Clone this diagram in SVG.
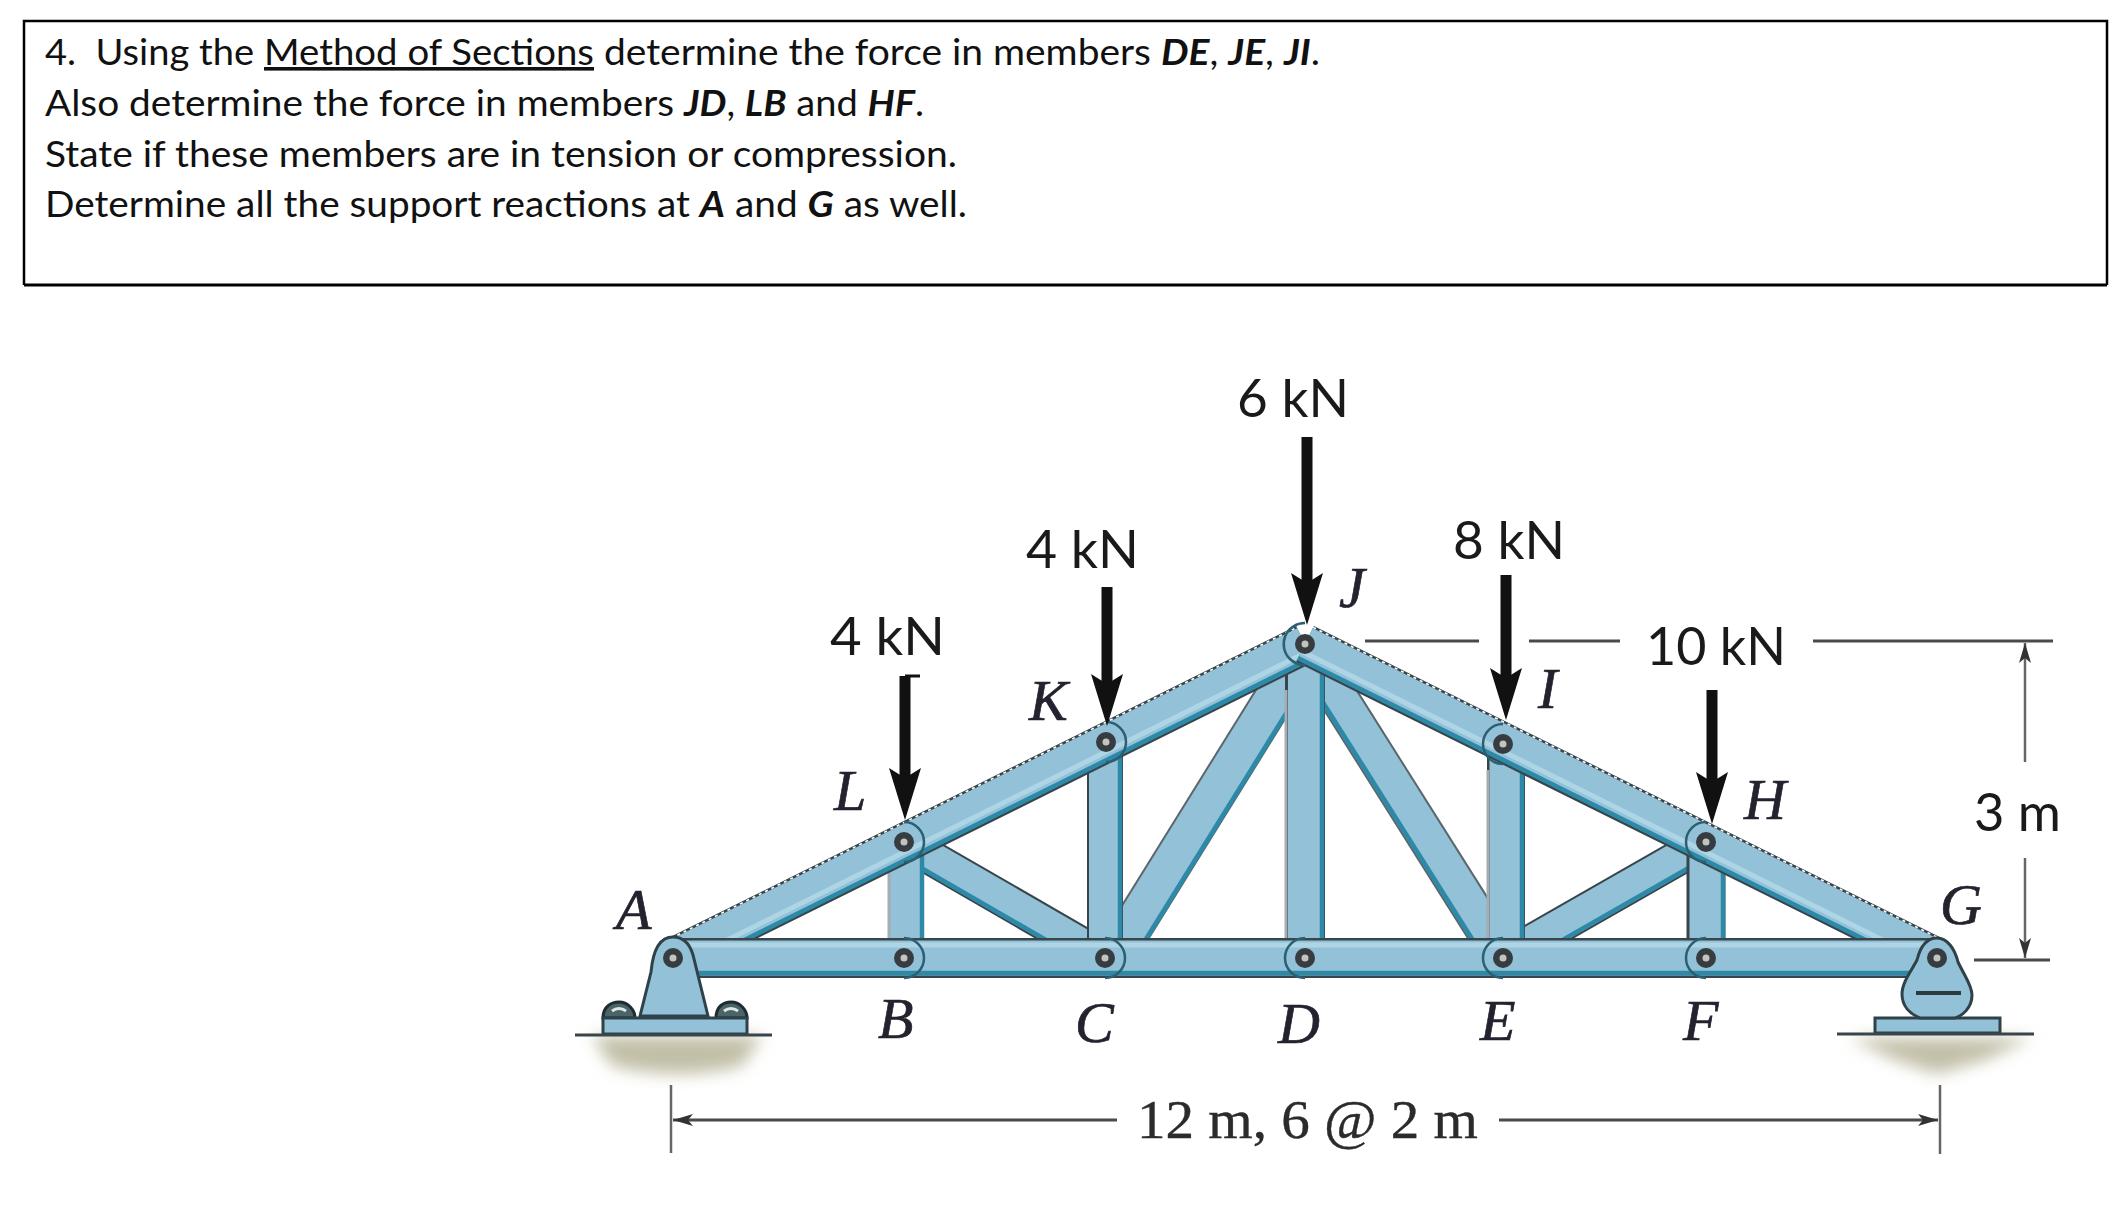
<svg xmlns="http://www.w3.org/2000/svg" width="2122" height="1212" viewBox="0 0 2122 1212">
<style>
text{font-family:"Lato","Open Sans","Liberation Sans",sans-serif;fill:#111}
.hd{font-size:36px}
.bi{font-weight:700;font-style:italic}
.kn{font-size:52px;fill:#1a1a1a}
.lb{font-family:"Liberation Serif","Times New Roman",serif;font-style:italic;font-size:58px;fill:#23232f;stroke:#23232f;stroke-width:.7px}
.dim12{font-family:"Liberation Serif","Times New Roman",serif;font-size:55px;fill:#2b2b2b;stroke:#2b2b2b;stroke-width:.4px}
line{fill:none}
.e{stroke:#38454b}
.f{stroke:#92c1d8}
.t{stroke:#2c8aa8;stroke-width:4.5}
.l{stroke:#add5e6;stroke-width:5}
.g{stroke:#a3adb2;stroke-width:3}
.w{stroke:#fff;stroke-width:1.6;stroke-dasharray:3 4}
.ch .e{stroke-width:40}.ch .f{stroke-width:35}
.web .e{stroke-width:36}.web .f{stroke-width:32}
.load{stroke:#111;stroke-width:11;marker-end:url(#head)}
.dim{stroke:#4a4a4a;stroke-width:3}
.dimg{stroke:#666;stroke-width:2.5}
.ring{fill:none;stroke:#2b5f72;stroke-width:2.5}
.ringl{fill:none;stroke:#d8ecf4;stroke-width:2}
.pin{fill:#363c3f}
.pc{fill:#c4c4bf}
.steel{fill:#92c1d8;stroke:#2f4249;stroke-width:3}
.bolt{fill:#4b6468;stroke:#1f2c30;stroke-width:3}
.shadow{fill:#c2bfa8;filter:url(#blur)}
</style>
<defs>
<marker id="head" markerUnits="userSpaceOnUse" markerWidth="54" markerHeight="36" viewBox="0 0 54 36" refX="22" refY="18" orient="auto">
<path d="M0,2 L10,18 L0,34 L52,18 Z" fill="#111"/>
</marker>
<marker id="sm" markerUnits="userSpaceOnUse" markerWidth="22" markerHeight="14" viewBox="0 0 22 14" refX="20" refY="7" orient="auto">
<path d="M0,1 L5,7 L0,13 L20,7 Z" fill="#333"/>
</marker>
<filter id="blur" x="-20%" y="-40%" width="140%" height="180%"><feGaussianBlur stdDeviation="8"/></filter>
</defs>
<rect width="2122" height="1212" fill="#fff"/>

<g id="problem-box">
<path d="M24,285 V21 H2107 V285" fill="none" stroke="#000" stroke-width="2.5"/>
<line x1="24" y1="285" x2="2107" y2="285" stroke="#000" stroke-width="3"/>
<text class="hd" x="45" y="65" xml:space="preserve" textLength="209" lengthAdjust="spacingAndGlyphs">4.  Using the</text>
<text class="hd" x="264" y="65" text-decoration="underline" textLength="330" lengthAdjust="spacingAndGlyphs">Method of Sections</text>
<text class="hd" x="604" y="65" textLength="716" lengthAdjust="spacingAndGlyphs">determine the force in members <tspan class="bi">DE</tspan>, <tspan class="bi">JE</tspan>, <tspan class="bi">JI</tspan>.</text>
<text class="hd" x="45" y="116" textLength="629" lengthAdjust="spacingAndGlyphs">Also determine the force in members</text>
<text class="hd" x="684" y="116" textLength="240" lengthAdjust="spacingAndGlyphs"><tspan class="bi">JD</tspan>, <tspan class="bi">LB</tspan> and <tspan class="bi">HF</tspan>.</text>
<text class="hd" x="45" y="167" textLength="912" lengthAdjust="spacingAndGlyphs">State if these members are in tension or compression.</text>
<text class="hd" x="45" y="217" textLength="922" lengthAdjust="spacingAndGlyphs">Determine all the support reactions at <tspan class="bi">A</tspan> and <tspan class="bi">G</tspan> as well.</text>
</g>

<g id="ground">
<path class="shadow" d="M592,1036 H762 L742,1066 Q680,1082 612,1066 Z"/>
<path class="shadow" d="M1850,1038 H2032 L1985,1060 L1937,1074 L1895,1060 Z"/>
</g>

<g id="connectors">
<g id="webs" class="web">
<g id="member-LC"><line class="e" x1="904" y1="842" x2="1105" y2="958"/><line class="f" x1="904" y1="842" x2="1105" y2="958"/><line class="t" x1="897" y1="854" x2="1098" y2="970"/></g>
<g id="member-CJ"><line class="e" style="stroke-width:42;stroke:#5a666b" x1="1113" y1="958" x2="1308" y2="644"/><line class="f" style="stroke-width:38" x1="1113" y1="958" x2="1308" y2="644"/><line class="t" x1="1128" y1="968" x2="1323" y2="654"/></g>
<g id="member-JE"><line class="e" style="stroke-width:40;stroke:#5a666b" x1="1305" y1="644" x2="1503" y2="958"/><line class="f" style="stroke-width:36" x1="1305" y1="644" x2="1503" y2="958"/><line class="t" x1="1291.500" y1="652.500" x2="1489.500" y2="966.500"/></g>
<g id="member-EH"><line class="e" x1="1503" y1="958" x2="1706" y2="842"/><line class="f" x1="1503" y1="958" x2="1706" y2="842"/><line class="t" x1="1510" y1="970" x2="1713" y2="854"/></g>
<g id="member-LB"><line class="e" x1="906" y1="842" x2="906" y2="958"/><line class="f" x1="906" y1="842" x2="906" y2="958"/><line class="g" x1="889" y1="860" x2="889" y2="940"/><line class="t" x1="922" y1="842" x2="922" y2="958"/></g>
<g id="member-KC"><line class="e" x1="1105" y1="742" x2="1105" y2="958"/><line class="f" x1="1105" y1="742" x2="1105" y2="958"/><line class="t" x1="1120" y1="742" x2="1120" y2="958"/></g>
<g id="member-JD"><line class="e" style="stroke-width:40" x1="1305" y1="644" x2="1305" y2="958"/><line class="f" style="stroke-width:34" x1="1305" y1="644" x2="1305" y2="958"/><line class="g" x1="1286" y1="690" x2="1286" y2="940"/><line class="t" x1="1322" y1="644" x2="1322" y2="958"/></g>
<g id="member-IE"><line class="e" style="stroke-width:38" x1="1506" y1="743" x2="1506" y2="958"/><line class="f" style="stroke-width:33" x1="1506" y1="743" x2="1506" y2="958"/><line class="g" x1="1488" y1="770" x2="1488" y2="940"/><line class="t" x1="1522" y1="743" x2="1522" y2="958"/></g>
<g id="member-HF"><line class="e" style="stroke-width:39" x1="1706" y1="842" x2="1706" y2="958"/><line class="f" style="stroke-width:33" x1="1706" y1="842" x2="1706" y2="958"/><line class="t" x1="1723" y1="842" x2="1723" y2="958"/></g>
</g>
<g id="chords" class="ch">
<g id="chord-top-left"><line class="e" x1="673" y1="958" x2="1305" y2="644"/><line class="f" x1="673" y1="958" x2="1305" y2="644"/><line class="l" x1="677" y1="965" x2="1309" y2="651"/><line class="t" x1="680" y1="972" x2="1312" y2="658"/><line class="w" x1="664.800" y1="941.400" x2="1296.800" y2="627.400"/></g>
<g id="chord-top-right"><line class="e" x1="1305" y1="644" x2="1937" y2="958"/><line class="f" x1="1305" y1="644" x2="1937" y2="958"/><line class="l" x1="1301" y1="651" x2="1933" y2="965"/><line class="t" x1="1298" y1="658" x2="1930" y2="972"/><line class="w" x1="1313.200" y1="627.400" x2="1945.200" y2="941.400"/></g>
<g id="chord-bottom"><line class="e" x1="673" y1="958" x2="1937" y2="958"/><line class="f" x1="673" y1="958" x2="1937" y2="958"/><line class="l" x1="673" y1="945" x2="1937" y2="945"/><line class="t" x1="673" y1="973" x2="1937" y2="973"/></g>
</g>
</g>

<g id="node-A">
<path class="bolt" d="M603,1018 C603,1006 612,1002 619,1002 C628,1002 635,1010 635,1018 Z"/><path d="M612,1011 Q619,1006 626,1011" stroke="#dfe7e6" stroke-width="3" fill="none"/>
<path class="bolt" d="M716,1018 C716,1006 724,1002 731,1002 C740,1002 747,1010 747,1018 Z"/><path d="M724,1011 Q731,1006 738,1011" stroke="#dfe7e6" stroke-width="3" fill="none"/>
<path class="steel" d="M640,1016 L651,972 C653,950 660,937 673,937 C686,937 691,948 693,955 L708,1016 Z"/>
<rect class="steel" x="603" y="1018" width="144" height="16"/>
<line class="e" x1="575" y1="1035" x2="772" y2="1035" style="stroke-width:3"/>
<circle class="pin" cx="673" cy="958" r="10"/><circle class="pc" cx="673" cy="958" r="3.500"/>
<text class="lb" x="616" y="929">A</text>
</g>
<g id="node-B"><path class="ring" d="M904,938 A20,20 0 0 1 904,978"/><circle class="pin" cx="904" cy="958" r="10"/><circle class="pc" cx="904" cy="958" r="3.500"/><text class="lb" x="878" y="1038">B</text></g>
<g id="node-C"><path class="ring" d="M1105,938 A20,20 0 0 1 1105,978"/><circle class="pin" cx="1105" cy="958" r="10"/><circle class="pc" cx="1105" cy="958" r="3.500"/><text class="lb" x="1075" y="1042">C</text></g>
<g id="node-D"><path class="ring" d="M1305,938 A20,20 0 0 0 1305,978"/><circle class="pin" cx="1305" cy="958" r="10"/><circle class="pc" cx="1305" cy="958" r="3.500"/><text class="lb" x="1278" y="1043">D</text></g>
<g id="node-E"><path class="ring" d="M1503,938 A20,20 0 0 0 1503,978"/><circle class="pin" cx="1503" cy="958" r="10"/><circle class="pc" cx="1503" cy="958" r="3.500"/><text class="lb" x="1480" y="1040">E</text></g>
<g id="node-F"><path class="ring" d="M1706,938 A20,20 0 0 0 1706,978"/><circle class="pin" cx="1706" cy="958" r="10"/><circle class="pc" cx="1706" cy="958" r="3.500"/><text class="lb" x="1683" y="1040">F</text></g>
<g id="node-G">
<rect class="steel" x="1875" y="1018" width="125" height="15"/>
<line class="e" x1="1837" y1="1034" x2="2034" y2="1034" style="stroke-width:3"/>
<path class="steel" d="M1937,938 C1948,938 1955,950 1958,962 C1964,975 1972,985 1972,995 C1972,1008 1962,1016 1955,1018 L1920,1018 C1910,1014 1902,1006 1902,994 C1902,982 1912,970 1917,960 C1920,948 1926,938 1937,938 Z"/>
<line x1="1916" y1="993" x2="1961" y2="993" stroke="#2a3a3e" stroke-width="4"/>
<circle class="pin" cx="1937" cy="958" r="10"/><circle class="pc" cx="1937" cy="958" r="3.500"/>
<text class="lb" x="1940" y="924">G</text>
</g>
<g id="node-H"><path class="ring" d="M1706,822 A20,20 0 0 0 1706,862"/><circle class="pin" cx="1706" cy="842" r="10"/><circle class="pc" cx="1706" cy="842" r="3.500"/><text class="lb" x="1744" y="819">H</text></g>
<g id="node-I"><path class="ring" d="M1503,724 A20,20 0 0 0 1503,764"/><circle class="pin" cx="1503" cy="744" r="10"/><circle class="pc" cx="1503" cy="744" r="3.500"/><text class="lb" x="1538" y="708">I</text></g>
<g id="node-J"><path class="ring" d="M1305,623 A21,21 0 0 0 1290,659 Q1296,665 1305,665"/><circle class="pin" cx="1305" cy="644" r="10"/><circle class="pc" cx="1305" cy="644" r="3.500"/><text class="lb" x="1339" y="607">J</text></g>
<g id="node-K"><path class="ring" d="M1106,722 A20,20 0 0 1 1106,762"/><circle class="pin" cx="1106" cy="742" r="10"/><circle class="pc" cx="1106" cy="742" r="3.500"/><text class="lb" x="1029" y="720">K</text></g>
<g id="node-L"><path class="ring" d="M904,822 A20,20 0 0 1 904,862"/><circle class="pin" cx="904" cy="842" r="10"/><circle class="pc" cx="904" cy="842" r="3.500"/><text class="lb" x="834" y="810">L</text></g>

<g id="loads">
<line class="load" x1="905" y1="676" x2="905" y2="790"/>
<path d="M905,676 H920" stroke="#111" stroke-width="3" fill="none"/>
<line class="load" x1="1107" y1="587" x2="1107" y2="696"/>
<line class="load" x1="1307" y1="437" x2="1307" y2="595"/>
<line class="load" x1="1506" y1="575" x2="1506" y2="690"/>
<line class="load" x1="1712" y1="690" x2="1712" y2="794"/>
<text class="kn" x="830" y="655" textLength="115" lengthAdjust="spacingAndGlyphs">4 kN</text>
<text class="kn" x="1026" y="568" textLength="113" lengthAdjust="spacingAndGlyphs">4 kN</text>
<text class="kn" x="1237" y="417" textLength="112" lengthAdjust="spacingAndGlyphs">6 kN</text>
<text class="kn" x="1453" y="559" textLength="112" lengthAdjust="spacingAndGlyphs">8 kN</text>
<text class="kn" x="1646" y="665" textLength="140" lengthAdjust="spacingAndGlyphs">10 kN</text>
</g>

<g id="dimensions">
<line class="dim" x1="1365" y1="641" x2="1479" y2="641"/>
<line class="dim" x1="1529" y1="641" x2="1620" y2="641"/>
<line class="dim" x1="1813" y1="641" x2="2053" y2="641"/>
<line class="dim" x1="1974" y1="960" x2="2050" y2="960"/>
<line class="dimg" x1="2025" y1="762" x2="2025" y2="643" marker-end="url(#sm)"/>
<line class="dimg" x1="2025" y1="858" x2="2025" y2="958" marker-end="url(#sm)"/>
<text class="kn" x="1974" y="831" textLength="87" lengthAdjust="spacingAndGlyphs">3 m</text>
<line class="dimg" x1="671" y1="1085" x2="671" y2="1153"/>
<line class="dimg" x1="1940" y1="1085" x2="1940" y2="1154"/>
<line class="dim" x1="1117" y1="1120" x2="673" y2="1120" marker-end="url(#sm)"/>
<line class="dim" x1="1499" y1="1120" x2="1938" y2="1120" marker-end="url(#sm)"/>
<text class="dim12" x="1137" y="1138" textLength="341" lengthAdjust="spacingAndGlyphs">12 m, 6 @ 2 m</text>
</g>
</svg>
